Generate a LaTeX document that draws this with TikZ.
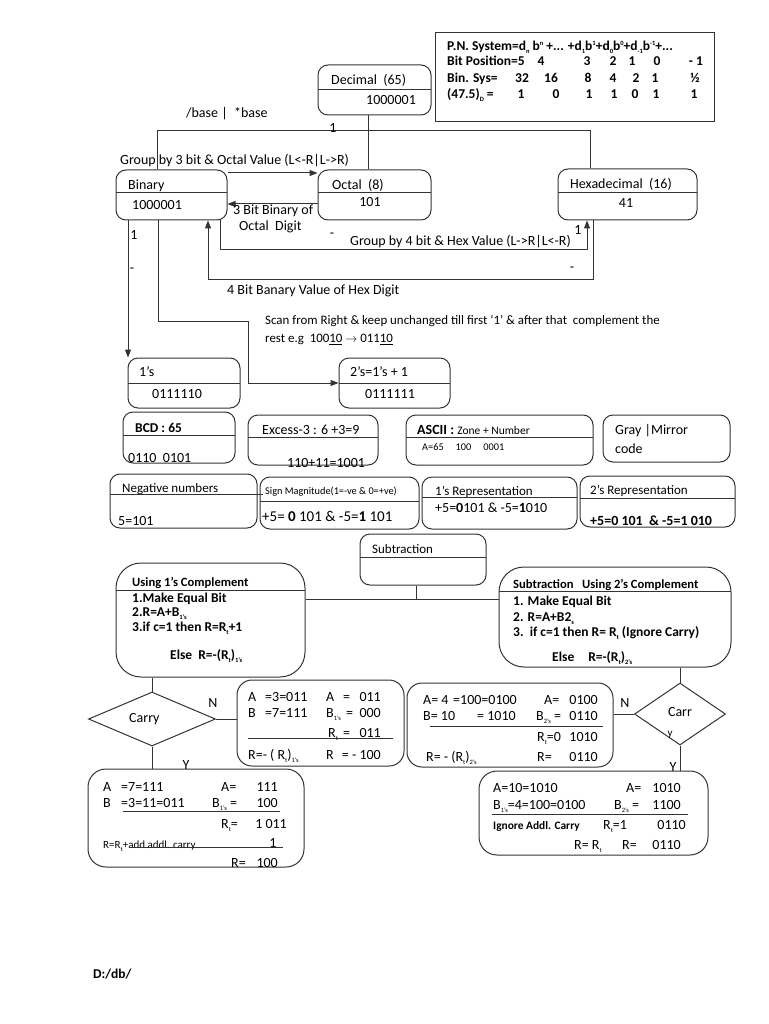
\documentclass[tikz,border=0pt]{standalone}
\usepackage{fontspec}
\setmainfont{Carlito}
\usetikzlibrary{shapes.geometric,arrows.meta,fit}
\newcommand\lowsub[1]{\raisebox{-3pt}{\fontsize{6.5}{6.5}\selectfont #1}}
\newcommand\tinysup[1]{\raisebox{5pt}{\fontsize{6.5}{6.5}\selectfont #1}}

\begin{document}
\begin{tikzpicture}[x=1pt,y=-1pt,
    ln/.style={line width=1pt,draw=black!80},
    arr/.style={ln,-{Triangle[length=8pt,width=6pt]}},
    box/.style={ln,rounded corners=10pt,inner sep=0pt},
    txt/.style={anchor=west,inner sep=0pt,text height=11.5pt,text depth=2.5pt,font=\fontsize{14}{16}\selectfont},
    ctr/.style={txt,anchor=center},
    rgt/.style={txt,anchor=east},
    bt/.style={txt,font=\fontsize{13.5}{16}\selectfont\bfseries},
    bc/.style={bt,anchor=center},
    sm/.style={txt,font=\fontsize{10.3}{12}\selectfont}]
  \fill[white] (0,0) rectangle (768,1024);
  \useasboundingbox (0,0) rectangle (768,1024);

  % number system
  \node[ln,inner sep=0pt,fit={(435,33)(714,122)}] (pn) {};
  \node[bt] (pn1) at (447,46) {P.N. System=d\lowsub{n} b\tinysup{n} +... +d\lowsub{1}b\tinysup{1}+d\lowsub{0}b\tinysup{0}+d\lowsub{-1}b\tinysup{-1}+...};
  \node[bt] (pn2) at (447,61) {Bit Position=5};
  \foreach \x/\v in {541/4,587/3,613/2,632/1,657/0,696/{- 1}}
    \node[bc] (bp\x) at (\x,61) {\v};
  \node[bt] (pn3) at (447,78) {Bin. Sys=};
  \foreach \x/\v in {522/32,551/16,588/8,613/4,636/2,655/1,695/½}
    \node[bc] (bs\x) at (\x,78) {\v};
  \node[bt] (pn4) at (447,94) {(47.5)\lowsub{D} =};
  \foreach \x/\v in {521/1,556/0,589/1,614/1,635/0,656/1,694/1}
    \node[bc] (dv\x) at (\x,94) {\v};

  % number bases
  \node[box,fit={(318,65)(431,115)}] (dec) {};
  \draw[ln] (318,90) -- (431,90);
  \node[txt] (decT) at (331,80) {Decimal\ \ (65)};
  \node[ctr] (decV) at (391,100) {1000001};
  \node[txt] (baseT) at (186,113) {/base |\ \ *base};

  \node[box,fit={(116,170)(227,220)}] (bin) {};
  \draw[ln] (116,193) -- (227,193);
  \node[txt] (binT) at (128,185) {Binary};
  \node[txt] (binV) at (132,205) {1000001};

  \node[box,fit={(318,170)(431,220)}] (oct) {};
  \draw[ln] (318,193) -- (431,193);
  \node[txt] (octT) at (332,185) {Octal\ \ (8)};
  \node[ctr] (octV) at (370,202) {101};

  \node[box,fit={(558,169)(697,220)}] (hex) {};
  \draw[ln] (558,193) -- (697,193);
  \node[txt] (hexT) at (570,184) {Hexadecimal\ \ (16)};
  \node[ctr] (hexV) at (626,203) {41};

  \draw[ln] (bin.north -| 157,0) |- (590,131) -- (hex.north -| 590,0);
  \draw[ln] (dec.south -| 368,0) -- (oct.north -| 368,0);
  \draw[arr] (bin.east |- 0,173) -- (oct.west |- 0,173);
  \draw[arr] (oct.west |- 0,204) -- (bin.east |- 0,204);
  \draw[arr] (bin.south -| 220,0) |- (587,249) -- (hex.south -| 587,0);
  \draw[arr] (hex.south -| 593,0) |- (208,279) -- (bin.south -| 208,0);

  \node[ctr] (one1) at (333,128) {1};
  \node[txt] (grp3) at (120,160) {Group by 3 bit \& Octal Value (L<-R|L->R)};
  \node[txt] (bin3a) at (233,210) {3 Bit Binary of};
  \node[txt] (bin3b) at (239,226) {Octal\ \ Digit};
  \node[ctr] (dsh1) at (332,233) {-};
  \node[ctr] (one2) at (134,235) {1};
  \node[ctr] (dsh2) at (132,268) {-};
  \node[ctr] (one3) at (578,230) {1};
  \node[ctr] (dsh3) at (572,267) {-};
  \node[txt] (grp4) at (350,241) {Group by 4 bit \& Hex Value (L->R|L<-R)};
  \node[txt] (bin4) at (227,290) {4 Bit Banary Value of Hex Digit};

  % complements
  \node[box,fit={(128,358)(240,408)}] (ones) {};
  \draw[ln] (128,383) -- (240,383);
  \node[txt] (onesT) at (139,372) {1’s};
  \node[ctr] (onesV) at (177,394) {0111110};

  \node[box,fit={(339,358)(450,408)}] (twos) {};
  \draw[ln] (339,383) -- (450,383);
  \node[txt] (twosT) at (350,372) {2’s=1’s + 1};
  \node[ctr] (twosV) at (390,394) {0111111};

  \draw[arr] (bin.south -| 128,0) -- (ones.north -| 128,0);
  \draw[arr] (bin.south -| 158,0) |- (248,321) |- (twos.west |- 0,383);
  \node[txt,font=\fontsize{12.9}{15}\selectfont] (scan1) at (265,320) {Scan from Right \& keep unchanged till first ‘1’ \& after that\ \ complement the};
  \node[txt,font=\fontsize{12.9}{15}\selectfont] (scan2) at (265,338) {rest e.g\ \ 100\underline{10} $\rightarrow$ 011\underline{10}};

  % codes
  \node[box,fit={(123,412)(235,463)}] (bcd) {};
  \draw[ln] (123,435) -- (235,435);
  \node[bt] (bcdT) at (135,428) {BCD : 65};
  \node[txt] (bcdV) at (128,458) {0110\ \ 0101};

  \node[box,fit={(248,415)(378,465)}] (ex3) {};
  \draw[ln] (248,437) -- (378,437);
  \node[txt] (ex3T) at (262,430) {Excess-3 : 6 +3=9};
  \node[txt] (ex3V) at (287,463) {110+11=1001};

  \node[box,fit={(406,415)(593,465)}] (asc) {};
  \draw[ln] (406,437) -- (593,437);
  \node[txt] (ascT) at (417,430) {\textbf{ASCII :} {\fontsize{11.5}{13}\selectfont Zone + Number}};
  \node[sm] (ascV) at (422,446) {A=65\hspace{12pt}100\hspace{12pt}0001};

  \node[box,fit={(603,415)(730,462)}] (gray) {};
  \node[txt] (grayT) at (615,430) {Gray |Mirror};
  \node[txt] (grayU) at (615,449) {code};

  % representations
  \node[box,fit={(110,474)(257,528)}] (neg) {};
  \draw[ln] (110,494) -- (263,494);
  \node[txt,font=\fontsize{13}{15}\selectfont] (negT) at (122,488) {Negative numbers};
  \node[txt] (negV) at (118,521) {5=101};

  \node[box,fit={(260,477)(419,529)}] (sgn) {};
  \draw[ln] (260,501) -- (419,501);
  \node[sm] (sgnT) at (265,490) {Sign Magnitude(1=-ve \& 0=+ve)};
  \node[txt,font=\fontsize{15}{17}\selectfont] (sgnV) at (262,517) {+5= \textbf{0} 101 \& -5=\textbf{1} 101};

  \node[box,fit={(422,477)(577,529)}] (r1) {};
  \draw[ln] (422,497) -- (577,497);
  \node[txt,font=\fontsize{13}{15}\selectfont] (r1T) at (435,491) {1’s Representation};
  \node[txt] (r1V) at (435,508) {+5=\textbf{0}101 \& -5=\textbf{1}010};

  \node[box,fit={(580,476)(735,527)}] (r2) {};
  \draw[ln] (580,498) -- (735,498);
  \node[txt,font=\fontsize{13}{15}\selectfont] (r2T) at (590,490) {2’s Representation};
  \node[txt,font=\fontsize{14}{16}\selectfont\bfseries] (r2V) at (590,521) {+5=0 101\ \ \& -5=1 010};

  % subtraction
  \node[box,fit={(360,534)(486,585)}] (sub) {};
  \draw[ln] (360,557) -- (486,557);
  \node[txt,font=\fontsize{13}{15}\selectfont] (subT) at (372,549) {Subtraction};

  \node[box,rounded corners=25pt,fit={(116,563)(305,677)}] (onec) {};
  \draw[ln] (116,590) -- (305,590);
  \node[bt,font=\fontsize{12.6}{15}\selectfont\bfseries] (onecT) at (132,582) {Using 1’s Complement};
  \node[bt] (onec1) at (132,598) {1.Make Equal Bit};
  \node[bt] (onec2) at (132,612) {2.R=A+B\lowsub{1’s}};
  \node[bt] (onec3) at (132,627) {3.if c=1 then R=R\lowsub{t}+1};
  \node[bt] (onec4) at (170,655) {Else\ \ R=-(R\lowsub{t})\lowsub{1’s}};

  \node[box,rounded corners=25pt,fit={(499,567)(731,667)}] (twoc) {};
  \draw[ln] (499,591) -- (731,591);
  \node[bt,font=\fontsize{12.6}{15}\selectfont\bfseries] (twocT) at (513,584) {Subtraction\ \ \ Using 2’s Complement};
  \node[bt] (twoc1) at (513,601) {1. Make Equal Bit};
  \node[bt] (twoc2) at (513,617) {2. R=A+B2\lowsub{s}};
  \node[bt] (twoc3) at (513,632) {3.\ \ if c=1 then R= R\lowsub{t} (Ignore Carry)};
  \node[bt] (twoc4) at (552,657) {Else\hspace{14pt}R=-(R\lowsub{t})\lowsub{2’s}};

  \coordinate (sj) at (416,599);
  \draw[ln] (sub.south -| sj) -- (sj);
  \draw[ln] (onec.east |- sj) -- (twoc.west |- sj);

  % 1's complement branch
  \node[ln,diamond,minimum width=127pt,minimum height=54pt,inner sep=0pt] (carL) at (152,719) {};
  \node[txt] (carLT) at (129,718) {Carry};
  \node[box,rounded corners=15pt,fit={(237,680)(404,766)}] (nL) {};
  \node[box,rounded corners=18pt,fit={(88,769)(304,867)}] (yL) {};
  \draw[ln] (onec.south -| carL.north) -- (carL.north);
  \draw[ln] (carL.east) -- (nL.west |- carL.east);
  \draw[ln] (carL.south) -- (yL.north -| carL.south);
  \node[ctr] (nLl) at (213,703) {N};
  \node[ctr] (yLl) at (186,765) {Y};

  \node[txt] (nL1) at (248,697) {A};
  \node[txt] (nL2) at (265,697) {=3=011};
  \node[txt] (nL3) at (326,697) {A};
  \node[txt] (nL4) at (343,697) {=};
  \node[rgt] (nL5) at (381,697) {011};
  \node[txt] (nL6) at (248,713) {B};
  \node[txt] (nL7) at (265,713) {=7=111};
  \node[txt] (nL8) at (326,713) {B\lowsub{1’s}};
  \node[txt] (nL9) at (346,713) {=};
  \node[rgt] (nL10) at (381,713) {000};
  \node[txt] (nL11) at (328,733) {R\lowsub{t}};
  \node[txt] (nL12) at (343,733) {=};
  \node[rgt] (nL13) at (381,733) {011};
  \draw[ln] (248,738) -- (393,738);
  \node[txt] (nL14) at (248,755) {R=- ( R\lowsub{t})\lowsub{1’s}};
  \node[txt] (nL15) at (326,755) {R};
  \node[rgt] (nL16) at (381,755) {= - 100};

  \node[txt] (yL1) at (103,787) {A};
  \node[txt] (yL2) at (121,787) {=7=111};
  \node[txt] (yL3) at (221,787) {A=};
  \node[rgt] (yL4) at (278,787) {111};
  \node[txt] (yL5) at (103,803) {B};
  \node[txt] (yL6) at (121,803) {=3=11=011};
  \node[txt] (yL7) at (212,803) {B\lowsub{1’s}\ =};
  \node[rgt] (yL8) at (278,803) {100};
  \draw[ln] (123,811) -- (280,811);
  \node[txt] (yL9) at (221,824) {R\lowsub{t}=};
  \node[rgt] (yL10) at (287,824) {1 011};
  \node[txt,font=\fontsize{11}{13}\selectfont] (yL11) at (103,844) {R=R\lowsub{t}+add addl. carry};
  \node[ctr] (yL12) at (273,843) {1};
  \draw[ln] (130,847) -- (283,847);
  \node[txt] (yL13) at (231,863) {R=};
  \node[rgt] (yL14) at (278,863) {100};

  % 2's complement branch
  \node[ln,diamond,minimum width=91pt,minimum height=62pt,inner sep=0pt] (carR) at (680,714) {};
  \node[ctr] (carRT) at (680,712) {Carr};
  \node[box,rounded corners=15pt,fit={(407,683)(613,767)}] (nR) {};
  \node[box,rounded corners=18pt,fit={(479,771)(708,855)}] (yR) {};
  \draw[ln] (twoc.south -| carR.north) -- (carR.north);
  \draw[ln] (carR.west) -- (nR.east |- carR.west);
  \draw[ln] (carR.south) -- (yR.north -| carR.south);
  \node[ctr] (nRl) at (625,703) {N};
  \node[ctr] (yRl) at (673,767) {Y};
  \node[ctr,font=\fontsize{11}{12}\selectfont] (yRs) at (670,732) {y};

  \node[txt] (nR1) at (423,700) {A= 4};
  \node[txt] (nR1b) at (453,700) {=100=0100};
  \node[txt] (nR2) at (544,700) {A=};
  \node[rgt] (nR3) at (598,700) {0100};
  \node[txt] (nR4) at (423,716) {B= 10};
  \node[txt] (nR5) at (477,716) {= 1010};
  \node[txt] (nR6) at (536,716) {B\lowsub{2’s} =};
  \node[rgt] (nR7) at (598,716) {0110};
  \draw[ln] (430,726) -- (603,726);
  \node[txt] (nR8) at (537,737) {R\lowsub{t}=0};
  \node[rgt] (nR9) at (598,737) {1010};
  \node[txt] (nR10) at (426,757) {R= - (R\lowsub{t})\lowsub{2’s}};
  \node[txt] (nR11) at (537,757) {R=};
  \node[rgt] (nR12) at (598,757) {0110};

  \node[txt] (yR1) at (493,788) {A=10=1010};
  \node[txt] (yR2) at (626,788) {A=};
  \node[rgt] (yR3) at (681,788) {1010};
  \node[txt] (yR4) at (493,805) {B\lowsub{1’s}=4=100=0100};
  \node[txt] (yR5) at (614,805) {B\lowsub{2’s} =};
  \node[rgt] (yR6) at (681,805) {1100};
  \draw[ln] (492,814) -- (688,814);
  \node[txt,font=\fontsize{11.4}{13}\selectfont\bfseries] (yR7) at (493,825) {Ignore Addl. Carry};
  \node[txt] (yR8) at (603,825) {R\lowsub{t}=1};
  \node[rgt] (yR9) at (686,825) {0110};
  \node[txt] (yR10) at (574,845) {R= R\lowsub{t}};
  \node[txt] (yR11) at (622,845) {R=};
  \node[rgt] (yR12) at (681,845) {0110};

  \node[bt] (path) at (93,974) {D:/db/};
\end{tikzpicture}
\end{document}
